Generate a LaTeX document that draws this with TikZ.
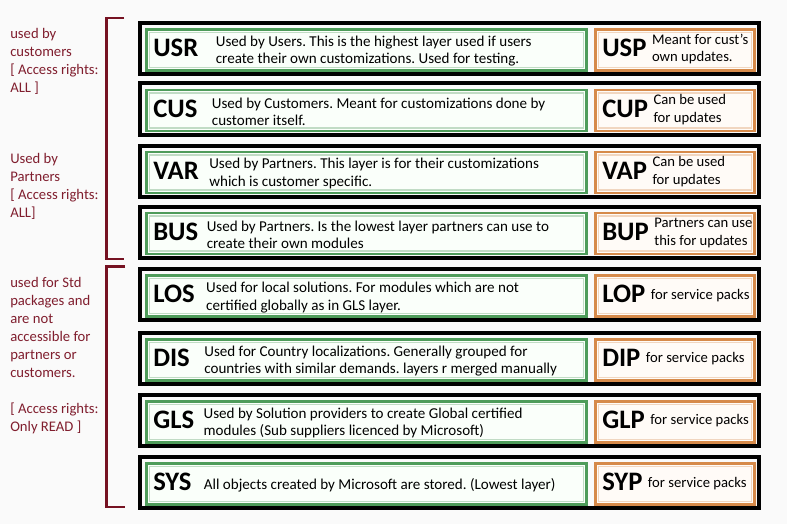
\documentclass[tikz,border=0pt]{standalone}
\usepackage{fontspec}
\setmainfont{Carlito}
\frenchspacing
\usetikzlibrary{positioning}
\definecolor{layergreen}{RGB}{78,156,90}
\definecolor{layerorange}{RGB}{214,138,74}
\definecolor{notered}{RGB}{128,30,46}
\definecolor{bracketred}{RGB}{118,18,34}
\tikzset{
  layerbox/.style={draw=black,line width=3pt},
  descbox/.style={draw=layergreen,line width=2.2pt,fill=green!2!white},
  packbox/.style={draw=layerorange,line width=2.2pt,fill=orange!3!white},
  code/.style={font=\fontsize{20}{24}\selectfont\bfseries,inner sep=0pt,anchor=west},
  desc/.style={font=\fontsize{11.3}{13.4}\selectfont,align=left,inner sep=0pt},
  pdesc/.style={font=\fontsize{11}{13.4}\selectfont,align=left,inner sep=0pt},
  note/.style={font=\fontsize{11}{13.5}\selectfont,align=left,inner sep=0pt,text=notered,anchor=north west},
  bracket/.style={draw=bracketred,line width=2.2pt}
}
\begin{document}
\begin{tikzpicture}[x=0.75pt,y=-0.75pt]
\useasboundingbox[fill=black!2] (0,0) rectangle (787,524);
% Layers, top of each row, layer code, gap, text, patch code, patch text
\foreach \top/\lay/\gap/\txt/\pat/\ptxt in {
  20.7/USR/17/{Used by Users. This is the highest layer used if users\\create their own customizations. Used for testing.}/USP/{Meant for cust's\\own updates.},
  81.5/CUS/14/{Used by Customers. Meant for customizations done by\\customer itself.}/CUP/{Can be used\\for updates},
  143.5/VAR/10/{Used by Partners. This layer is for their customizations\\which is customer specific.}/VAP/{Can be used\\for updates},
  204.5/BUS/8/{Used by Partners. Is the lowest layer partners can use to\\create their own modules}/BUP/{Partners can use\\this for updates},
  267.3/LOS/11/{Used for local solutions. For modules which are not\\certified globally as in GLS layer.}/LOP/{for service packs},
  330.7/DIS/14/{Used for Country localizations. Generally grouped for\\countries with similar demands. layers r merged manually}/DIP/{for service packs},
  392.7/GLS/9/{Used by Solution providers to create Global certified\\modules (Sub suppliers licenced by Microsoft)}/GLP/{for service packs},
  455/SYS/12/{All objects created by Microsoft are stored. (Lowest layer)}/SYP/{for service packs}} {
  % Frames of the row
  \draw[layerbox] (140,\top+2) rectangle (759,\top+53);
  \draw[descbox] (146.5,\top+8.5) rectangle (586.5,\top+49.5);
  \draw[layergreen!35,line width=0.8pt] (149.5,\top+11.5) rectangle (583.5,\top+46.5);
  \draw[packbox] (595.5,\top+8.5) rectangle (754.5,\top+49.5);
  \draw[layerorange!35,line width=0.8pt] (598.5,\top+11.5) rectangle (751.5,\top+46.5);
  % Codes and their texts
  \node[code] (\lay) at (153,\top+27) {\lay};
  \node[desc,right=\gap of \lay,yshift=-2.5pt] (\lay-txt) {\txt};
  \node[code] (\pat) at (602,\top+27) {\pat};
  \node[pdesc,right=5 of \pat,yshift=-1pt] (\pat-txt) {\ptxt};
}
% Brackets for the groups
\draw[bracket] (124,18) -- (106.7,18) -- (106.7,259) -- (124,259);
\draw[bracket] (125,266.5) -- (106.7,266.5) -- (106.7,507) -- (125,507);
% Access rights
\node[note] (cust) at (10,28) {used by\\customers\\{[} Access rights:\\ALL ]};
\node[note] (part) at (10,153) {Used by\\Partners\\{[} Access rights:\\ALL]};
\node[note] (std) at (10,277) {used for Std\\packages and\\are not\\accessible for\\partners or\\customers.\\[13.5pt]{[} Access rights:\\Only READ ]};
\end{tikzpicture}
\end{document}
